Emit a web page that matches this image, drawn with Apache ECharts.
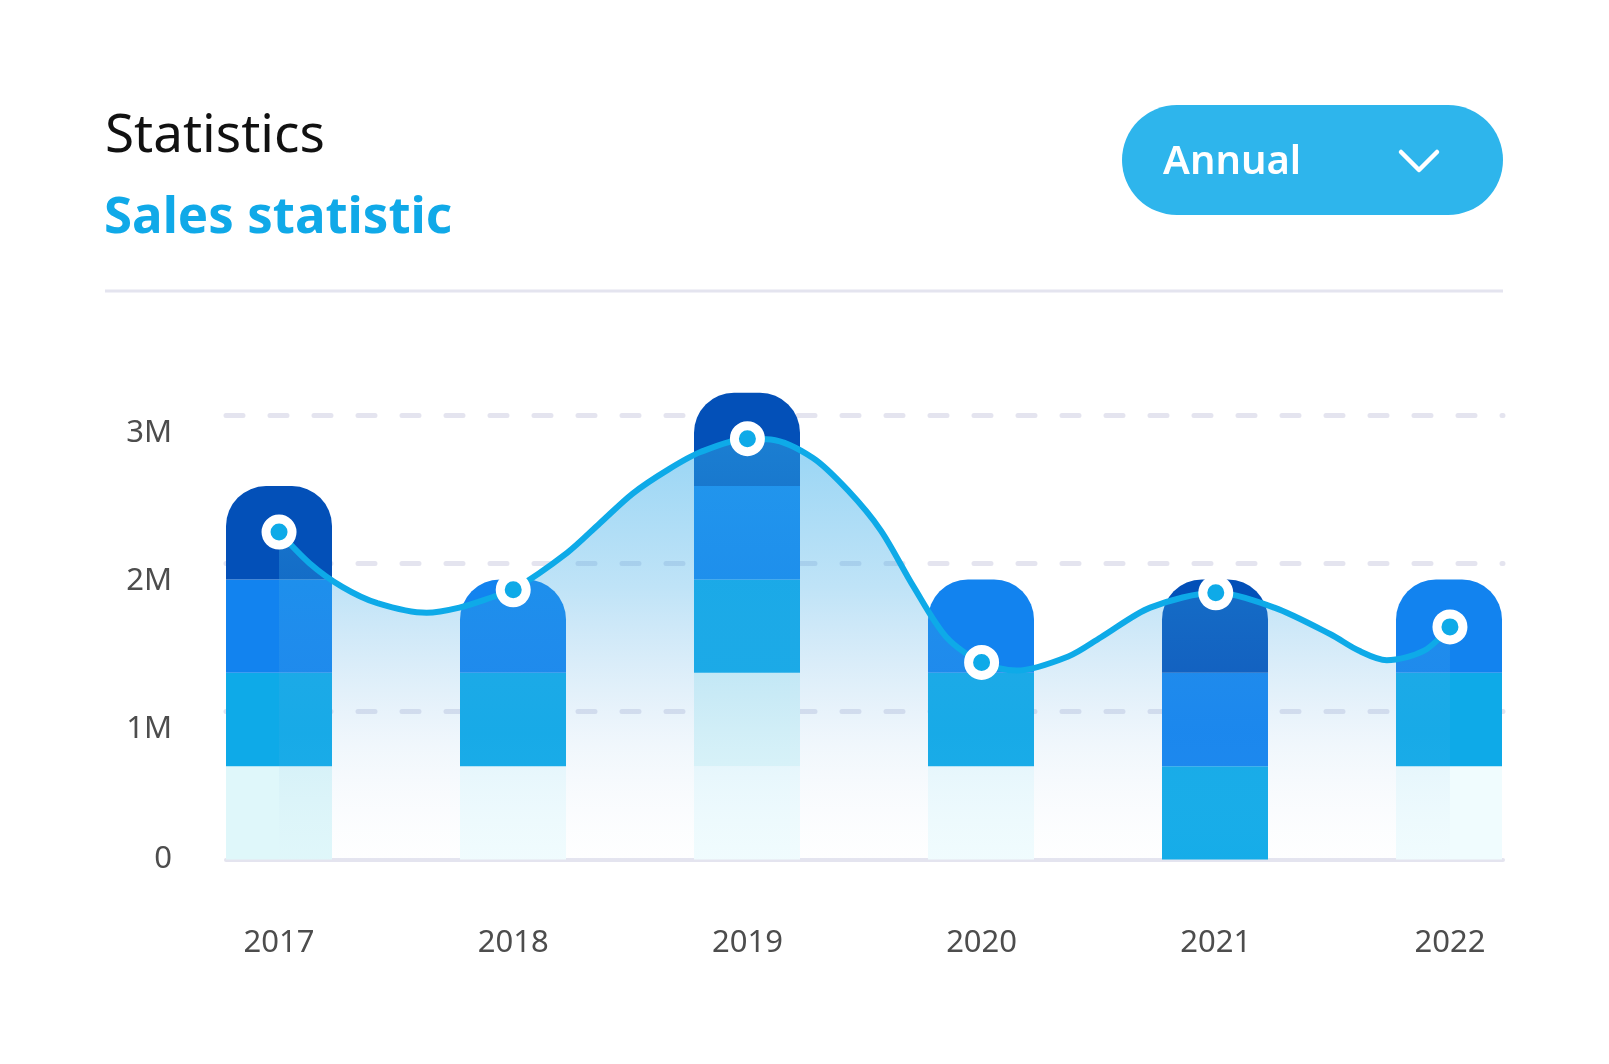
<!DOCTYPE html>
<html>
<head>
<meta charset="utf-8">
<title>Sales statistic</title>
<script src="https://cdn.jsdelivr.net/npm/echarts@6/dist/echarts.min.js"></script>
<style>
  html, body { margin: 0; padding: 0; background: #fff; }
  #myChart { width: 1609px; height: 1064px; }
</style>
</head>
<body>
<div id="myChart"></div><!-- chart area -->
<script>
// categories
const years = [2017, 2018, 2019, 2020, 2021, 2022];
// stacked bar blocks in millions, bottom -> top ('-' = no block)
const block1 = [0.63, 0.63, 0.63, 0.63, 0.63, 0.63];
const block2 = [0.63, 0.63, 0.63, 0.63, 0.63, 0.63];
const block3 = [0.63, 0.63, 0.63, 0.63, 0.63, 0.63];
const block4 = [0.63, '-', 0.63, '-', '-', '-'];
const block5 = ['-', '-', 0.63, '-', '-', '-'];
// sales curve (x in years, y in millions), markers sit on the whole years
const lineX = [2017, 2017.13, 2017.27, 2017.42, 2017.63, 2017.77, 2017.91,
               2018, 2018.23, 2018.37, 2018.51, 2018.66, 2018.8,
               2019, 2019.1, 2019.28, 2019.43, 2019.57, 2019.71, 2019.85,
               2020, 2020.15, 2020.37, 2020.51, 2020.72,
               2021, 2021.25, 2021.49, 2021.61, 2021.73, 2021.89, 2022];
const lineY = [2.21, 2.00, 1.84, 1.73, 1.665, 1.70, 1.77,
               1.82, 2.07, 2.27, 2.47, 2.63, 2.75,
               2.84, 2.835, 2.71, 2.49, 2.22, 1.84, 1.50,
               1.33, 1.275, 1.37, 1.50, 1.70,
               1.80, 1.70, 1.52, 1.41, 1.345, 1.41, 1.57];
// y tick labels
const yTicks = [0, 1, 2, 3];

// colours of the blocks
const DARK = '#0350b8', BLUE = '#1283ef', CYAN = '#0eaae8', LIGHT = '#dff7fa', PALE = '#f0fcfe';
const blocks = [block1, block2, block3, block4, block5];
const blockColors = [
  [LIGHT, PALE, PALE, PALE, CYAN, PALE],
  [CYAN, CYAN, LIGHT, CYAN, BLUE, CYAN],
  [BLUE, BLUE, CYAN, BLUE, DARK, BLUE],
  [DARK, DARK, BLUE, DARK, DARK, DARK],
  [DARK, DARK, DARK, DARK, DARK, DARK]
];

function blockSeries(vals, lvl) {
  return {
    type: 'bar',
    xAxisIndex: 1,
    yAxisIndex: 1,
    stack: 'sales',
    barWidth: 106,
    clip: false,
    z: 2,
    data: vals.map(function (v, i) {
      var next = blocks[lvl + 1];
      var isTop = !next || next[i] === '-';
      return {
        value: v,
        itemStyle: { color: blockColors[lvl][i], borderRadius: isTop ? [40, 40, 0, 0] : 0 }
      };
    })
  };
}

let myChart = echarts.init(document.getElementById('myChart'));
let series = blocks.map(blockSeries);
series.push({
  type: 'line',
  data: lineX.map(function (x, i) { return [x, lineY[i]]; }),
  smooth: 0.3,
  z: 5,
  symbol: 'circle',
  symbolSize: function (v) { return years.indexOf(v[0]) >= 0 ? 26 : 0; },
  itemStyle: { color: '#0eaae8', borderColor: '#fff', borderWidth: 9 },
  lineStyle: { color: '#0eaae8', width: 6 },
  areaStyle: {
    color: new echarts.graphic.LinearGradient(0, 0, 0, 1, [
      { offset: 0, color: 'rgba(50,172,235,0.72)' },
      { offset: 0.35, color: 'rgba(55,168,230,0.46)' },
      { offset: 0.7, color: 'rgba(100,170,225,0.16)' },
      { offset: 1, color: 'rgba(230,236,246,0.05)' }
    ])
  }
});

myChart.setOption({
  animation: false,
  backgroundColor: '#fff',
  graphic: [
    { type: 'text', left: 105, top: 110, style: { text: 'Statistics', font: '400 53px "Noto Sans"', fill: '#111' } },
    { type: 'text', left: 104, top: 193, style: { text: 'Sales statistic', font: '700 51px "Noto Sans"', fill: '#10a9e8' } },
    { type: 'line', shape: { x1: 105, y1: 291, x2: 1503, y2: 291 }, style: { stroke: '#e4e4ef', lineWidth: 3 } },
    { type: 'rect', shape: { x: 1122, y: 105, width: 381, height: 110, r: 55 }, style: { fill: '#2eb5ec' } },
    { type: 'text', x: 1163, y: 163, style: { text: 'Annual', font: '600 40px "Noto Sans"', fill: '#fff', verticalAlign: 'middle' } },
    { type: 'polyline', shape: { points: [[1401, 152], [1419, 170], [1437, 152]] },
      style: { stroke: '#fff', lineWidth: 4.5, lineCap: 'round', lineJoin: 'round', fill: null } }
  ],
  grid: [
    { left: 226, right: 106, top: 415, bottom: 204.5, outerBoundsMode: 'none' },
    { left: 162, right: 43, top: 415, bottom: 204.5, outerBoundsMode: 'none' }
  ],
  xAxis: [{
    type: 'value',
    gridIndex: 0,
    min: 2016.7735,
    max: 2022.2265,
    splitLine: { show: false },
    axisTick: { show: false },
    axisLine: { show: true, onZero: false, lineStyle: { color: '#e4e4ef', width: 4 } },
    axisLabel: {
      customValues: years,
      margin: 68,
      formatter: function (v) { return String(v); },
      color: '#4d4d4d',
      fontFamily: 'Noto Sans',
      fontSize: 31
    }
  }, {
    type: 'category',
    gridIndex: 1,
    data: years,
    show: false
  }],
  yAxis: [{
    type: 'value',
    gridIndex: 0,
    min: 0,
    max: 3,
    interval: 1,
    axisLine: { show: false },
    axisTick: { show: false },
    splitLine: {
      show: true,
      showMinLine: false,
      lineStyle: { color: '#e4e4ef', width: 5, type: [17, 27], cap: 'round' }
    },
    axisLabel: {
      customValues: yTicks,
      margin: 54,
      formatter: function (v) { return v === 0 ? '{z|0}' : '{m|' + v + 'M}'; },
      rich: {
        m: { color: '#4d4d4d', fontFamily: 'Noto Sans', fontSize: 31, padding: [36, 0, 0, 0] },
        z: { color: '#4d4d4d', fontFamily: 'Noto Sans', fontSize: 31, padding: [0, 0, 0, 0] }
      }
    }
  }, {
    type: 'value',
    gridIndex: 1,
    min: 0,
    max: 3,
    show: false,
    splitLine: { show: false }
  }],
  series: series
});
</script>
</body>
</html>
